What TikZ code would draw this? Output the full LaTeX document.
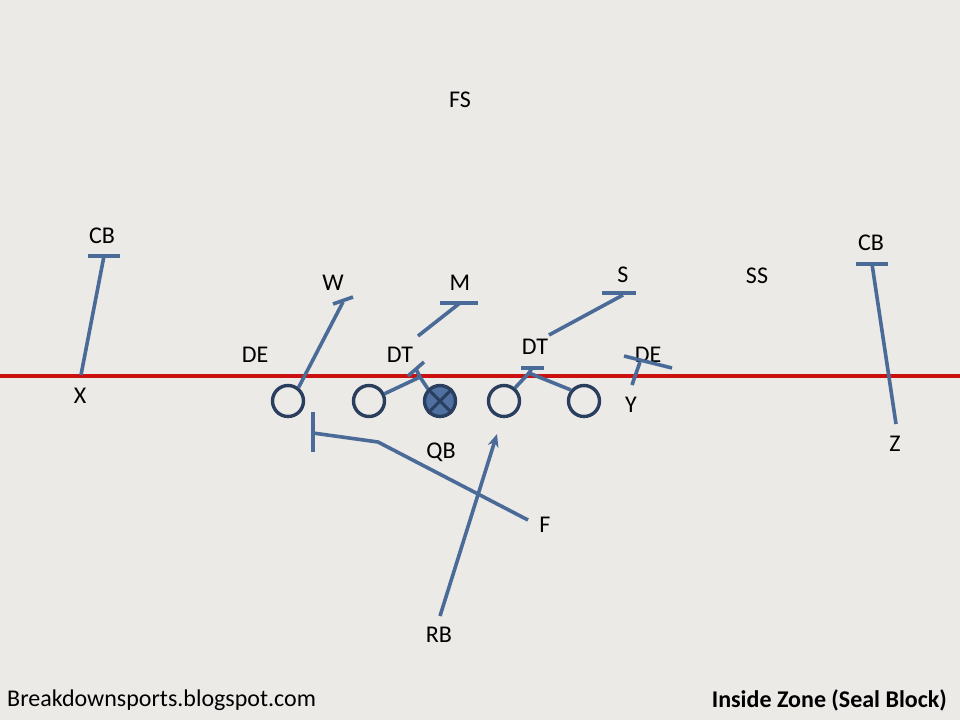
\documentclass[tikz,border=0pt]{standalone}
\usepackage{fontspec}
\setmainfont{Carlito}
\usetikzlibrary{arrows.meta}
\definecolor{route}{RGB}{74,106,152}
\definecolor{oline}{RGB}{42,62,94}
\definecolor{cfill}{RGB}{80,112,162}
\definecolor{los}{RGB}{204,16,16}
\definecolor{bg}{RGB}{236,234,231}

\begin{document}
\begin{tikzpicture}[x=1pt,y=-1pt,
	lbl/.style={font=\fontsize{24}{24}\selectfont,inner sep=0pt},
	lineman/.style={draw=oline,circle,line width=3.4pt,minimum size=31pt,inner sep=0pt},
	route/.style={draw=route,line width=3.6pt},
	]

	\fill[bg] (0,0) rectangle (960,720);
	\useasboundingbox (0,0) rectangle (960,720);

	% line of scrimmage
	\coordinate (losL) at (0,376);
	\coordinate (losR) at (960,376);
	\draw[los,line width=3.8pt] (losL) -- (losR);

	% defense
	\node[lbl] (fs)  at (460,100) {FS};
	\node[lbl] (cbl) at (102,236) {CB};
	\node[lbl] (cbr) at (871,243) {CB};
	\node[lbl] (w)   at (333,283) {W};
	\node[lbl] (m)   at (460,283) {M};
	\node[lbl] (s)   at (623,275) {S};
	\node[lbl] (ss)  at (757,276) {SS};
	\node[lbl] (del) at (255,355) {DE};
	\node[lbl] (dtl) at (400,355) {DT};
	\node[lbl] (dtr) at (535,347) {DT};
	\node[lbl] (der) at (648,355) {DE};

	% offense
	\node[lbl] (x)  at (80,396)  {X};
	\node[lbl] (y)  at (631,405) {Y};
	\node[lbl] (z)  at (895,444) {Z};
	\node[lbl] (qb) at (441,452) {QB};
	\node[lbl] (f)  at (545,525) {F};
	\node[lbl] (rb) at (439,635) {RB};

	\node[lineman] (lt) at (288,401) {};
	\node[lineman] (lg) at (369,401) {};
	\node[lineman,fill=cfill] (c) at (440,401) {};
	\draw[oline,line width=3pt] (c.45) -- (c.225) (c.135) -- (c.315);
	\node[lineman] (rg) at (504,401) {};
	\node[lineman] (rt) at (584,401) {};

	% route and block points
	\coordinate (xs)   at (81,375);
	\coordinate (cblb) at (104,256);
	\coordinate (zs)   at (896,424);
	\coordinate (cbrb) at (872,264);
	\coordinate (wb)   at (343,302);
	\coordinate (ms)   at (418,336);
	\coordinate (mb)   at (460,303);
	\coordinate (dtlj) at (420,377);
	\coordinate (dtlb) at (416,369);
	\coordinate (dtrj) at (529,373);
	\coordinate (dtrb) at (532,368);
	\coordinate (ss1)  at (549,335);
	\coordinate (sb)   at (623,295);
	\coordinate (ys)   at (632,385);
	\coordinate (deb)  at (640,362);
	\coordinate (fs1)  at (528,520);
	\coordinate (fk)   at (378,442);
	\coordinate (fb)   at (313,433);
	\coordinate (rbs)  at (440,616);
	\coordinate (rbe)  at (497,434);

	% receivers
	\draw[route] (xs) -- (cblb);
	\draw[route] (cblb) +(-16,0) -- +(16,0);
	\draw[route] (zs) -- (cbrb);
	\draw[route] (cbrb) +(-16,0) -- +(16,0);

	% blocks
	\draw[route] (lt.52) -- (wb);
	\draw[route] (wb) +(-10,2) -- +(10,-5);
	\draw[route] (ms) -- (mb);
	\draw[route] (mb) +(-20,0) -- +(18,0);
	\draw[route] (lg.25) -- (dtlj);
	\draw[route] (c.135) -- (dtlj) -- (dtlb);
	\draw[route] (dtlb) +(-8,7) -- +(8,-7);
	\draw[route] (rg.50) -- (dtrj) -- (rt.140);
	\draw[route] (dtrj) -- (dtrb);
	\draw[route] (dtrb) +(-11,0) -- +(12,0);
	\draw[route] (ss1) -- (sb);
	\draw[route] (sb) +(-21,-2) -- +(13,-2);
	\draw[route] (ys) -- (deb);
	\draw[route] (deb) +(-16,-6) -- +(32,6);

	% backs
	\draw[route] (fs1) -- (fk) -- (fb);
	\draw[route] (fb) +(0,-21) -- +(0,19);
	\path[-{Stealth[length=13pt,width=11pt]},draw=route,line width=3.6pt] (rbs) -- (rbe);

	% captions
	\node[lbl,anchor=west] (site) at (7,700) {Breakdownsports.blogspot.com};
	\node[lbl,anchor=east,font=\fontsize{24}{24}\selectfont\bfseries] (title) at (947,700) {Inside Zone (Seal Block)};

\end{tikzpicture}
\end{document}
